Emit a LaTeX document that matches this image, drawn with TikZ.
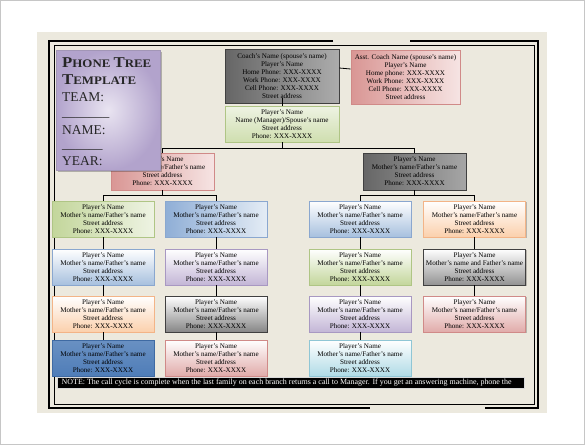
\documentclass[tikz,border=0pt]{standalone}
\usepackage{fontspec}
\usepackage{graphicx}
\setmainfont{Liberation Serif}
\usetikzlibrary{shadows}
\definecolor{beige}{RGB}{236,233,222}
\definecolor{pinkD}{HTML}{D99694}
\definecolor{pinkL}{HTML}{F6E4E3}
\definecolor{pinkB}{HTML}{D08A88}
\definecolor{grayD}{HTML}{666666}
\definecolor{grayM}{HTML}{DADADA}
\definecolor{grayB}{HTML}{404040}
\definecolor{greenD}{HTML}{C3D69B}
\definecolor{greenL}{HTML}{EEF3E3}
\definecolor{greenB}{HTML}{AFC585}
\definecolor{blueD}{HTML}{A7C0DE}
\definecolor{blueS}{HTML}{8FAED6}
\definecolor{blueL}{HTML}{E4ECF5}
\definecolor{blueB}{HTML}{8AA7CF}
\definecolor{orangeD}{HTML}{FBD0AC}
\definecolor{orangeB}{HTML}{F3B487}
\definecolor{purpleD}{HTML}{C3B6D6}
\definecolor{purpleB}{HTML}{A898C2}
\definecolor{aquaD}{HTML}{B0DBE6}
\definecolor{aquaB}{HTML}{8FC6D5}
\definecolor{sblueD}{HTML}{4F7DB8}
\definecolor{sblueL}{HTML}{A3BEE0}
\definecolor{sblueB}{HTML}{3F6AA3}
\definecolor{lavL}{HTML}{E9E4F1}
\definecolor{lavD}{HTML}{B2A3CC}
\newcommand\playertext{Player's Name\\Mother's name/Father's name\\Street address\\Phone: XXX-XXXX}
\begin{document}
\begin{tikzpicture}[x=1pt,y=-1pt,
  pbox/.style={rectangle, draw, line width=0.6pt, inner sep=0pt, align=center,
    minimum width=102pt, minimum height=36pt, font=\fontsize{7.1}{8}\selectfont,
    drop shadow={shadow xshift=1.2pt, shadow yshift=-1.2pt, fill=black, opacity=0.22}},
  wgrad/.style 2 args={top color=white, bottom color=#1, draw=#2},
  conn/.style={line width=0.8pt},
  ttl/.style={anchor=base west, inner sep=0pt, text=black!85}
]
\useasboundingbox (0,0) rectangle (585,445);
\fill[white] (0,0) rectangle (585,445);
\draw[gray!45, line width=1pt] (0.5,0.5) rectangle (584.5,444.5);
\fill[beige] (37,32) rectangle (547,413);

% frames
\draw[line width=2.6pt] (333,41) -- (49,41) -- (49,408) -- (370,408);
\draw[line width=2.6pt] (410,41) -- (538,41) -- (538,408) -- (485,408);
\draw[line width=0.8pt] (54,45) rectangle (534,404);

% top nodes
\node[pbox, minimum width=114pt, minimum height=54pt, left color=grayD, middle color=grayM, right color=gray!65, draw=grayB] (c) at (282,76)
  {Coach's Name (spouse's name)\\Player's Name\\Home Phone: XXX-XXXX\\Work Phone: XXX-XXXX\\Cell Phone: XXX-XXXX\\Street address};
\node[pbox, minimum width=109pt, minimum height=54pt, left color=pinkD, right color=pinkL, draw=pinkB] (ac) at (405.5,77)
  {Asst. Coach Name (spouse's name)\\Player's Name\\Home phone: XXX-XXXX\\Work Phone: XXX-XXXX\\Cell Phone: XXX-XXXX\\Street address};
\node[pbox, minimum width=114pt, minimum height=36pt, top color=greenL, bottom color=greenD!80, draw=greenB] (m) at (282,124)
  {Player's Name\\Name (Manager)/Spouse's name\\Street address\\Phone: XXX-XXXX};

% level 1
\node[pbox, minimum width=103pt, minimum height=37pt, left color=pinkD, right color=pinkL, draw=pinkB] (l1) at (162.5,171.5) {\playertext};
\node[pbox, minimum width=103pt, minimum height=37pt, left color=grayD, middle color=grayM, right color=gray!70, draw=grayB] (r1) at (414.5,171.5) {\playertext};

% level 2
\node[pbox, left color=greenD, right color=greenL, draw=greenB] (a2) at (103,219) {\playertext};
\node[pbox, left color=blueS, right color=blueL, draw=blueB] (b2) at (216,219) {\playertext};
\node[pbox, wgrad={blueD}{blueB}] (c2) at (360,219) {\playertext};
\node[pbox, wgrad={orangeD}{orangeB}] (d2) at (474.5,219) {\playertext};

% level 3
\node[pbox, wgrad={blueD}{blueB}] (a3) at (103,267) {\playertext};
\node[pbox, wgrad={purpleD}{purpleB}] (b3) at (216,267) {\playertext};
\node[pbox, wgrad={greenD}{greenB}] (c3) at (360,267) {\playertext};
\node[pbox, wgrad={gray!85}{grayB}] (d3) at (474.5,267)
  {Player's Name\\Mother's name and Father's name\\Street address\\Phone: XXX-XXXX};

% level 4
\node[pbox, wgrad={orangeD}{orangeB}] (a4) at (103,314) {\playertext};
\node[pbox, wgrad={gray!95}{grayB}] (b4) at (216,314) {\playertext};
\node[pbox, wgrad={purpleD}{purpleB}] (c4) at (360,314) {\playertext};
\node[pbox, wgrad={pinkD!80}{pinkB}] (d4) at (474.5,314) {\playertext};

% level 5
\node[pbox, top color=sblueD!85!white, middle color=sblueL, bottom color=sblueD, draw=sblueB] (a5) at (103,358) {\playertext};
\node[pbox, wgrad={pinkD!80}{pinkB}] (b5) at (216,358) {\playertext};
\node[pbox, wgrad={aquaD}{aquaB}] (c5) at (360,358) {\playertext};

% connectors
\draw[conn] ([yshift=8pt]c.east) -- ([yshift=8pt]ac.west);
\draw[conn] ([yshift=5pt]c.south) -- (m.north);
\coordinate (bus0) at (285,148);
\draw[conn] (m.south) -- (m.south |- bus0);
\draw[conn] (l1.north) -- (l1.north |- bus0) -- (r1.north |- bus0) -- (r1.north);
\coordinate (bus1) at (160,195);
\draw[conn] (l1.south) -- (l1.south |- bus1);
\draw[conn] (a2.north) -- (a2.north |- bus1) -- (b2.north |- bus1) -- (b2.north);
\coordinate (bus2) at (415,195);
\draw[conn] (r1.south) -- (r1.south |- bus2);
\draw[conn] (c2.north) -- (c2.north |- bus2) -- (d2.north |- bus2) -- (d2.north);
\draw[conn] (a2) -- (a3) -- (a4) -- (a5);
\draw[conn] (b2) -- (b3) -- (b4) -- (b5);
\draw[conn] (c2) -- (c3) -- (c4) -- (c5);
\draw[conn] (d2) -- (d3) -- (d4);

% note bar
\node[rectangle, fill=black, draw=gray!30, line width=1pt, minimum width=467pt, minimum height=11pt, inner sep=0pt] (note) at (290.5,382.5) {};
\begin{scope}
\clip (note.south west) rectangle (note.north east);
\node[anchor=west, inner sep=0pt, text=white, font=\fontsize{7.95}{8}\selectfont] (notetext) at ([xshift=5pt]note.west)
  {NOTE: The call cycle is complete when the last family on each branch returns a call to Manager. If you get an answering machine, phone the};
\end{scope}

% title box
\node[rectangle, inner sep=0pt, minimum width=104pt, minimum height=120pt, inner color=lavL, outer color=lavD, draw=lavD!85!black!90,
  line width=0.6pt, drop shadow={shadow xshift=1.5pt, shadow yshift=-1.5pt, fill=black, opacity=0.25}] (title) at (108,110) {};
\node[ttl, font=\bfseries] (t1) at (62,67) {\scalebox{1.12}[1]{{\fontsize{15}{15}\selectfont P}{\fontsize{11.5}{12}\selectfont HONE }{\fontsize{15}{15}\selectfont T}{\fontsize{11.5}{12}\selectfont REE}}};
\node[ttl, font=\bfseries] (t2) at (62,84) {\scalebox{1.12}[1]{{\fontsize{15}{15}\selectfont T}{\fontsize{11.5}{12}\selectfont EMPLATE}}};
\node[ttl, font=\fontsize{13.5}{14}\selectfont] (t3) at (62,101) {TEAM:};
\node[ttl, font=\fontsize{13.5}{14}\selectfont] (t4) at (62,116) {\_\_\_\_\_\_\_};
\node[ttl, font=\fontsize{13.5}{14}\selectfont] (t5) at (62,134) {NAME:};
\node[ttl, font=\fontsize{13.5}{14}\selectfont] (t6) at (62,148) {\_\_\_\_\_\_};
\node[ttl, font=\fontsize{13.5}{14}\selectfont] (t7) at (62,165) {YEAR:};
\end{tikzpicture}
\end{document}
